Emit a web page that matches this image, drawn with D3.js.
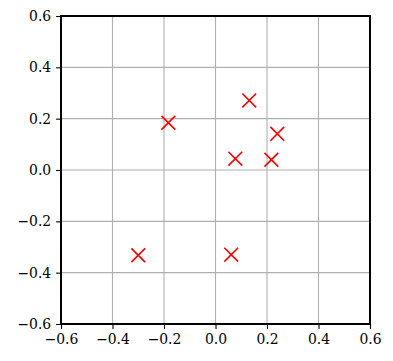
<!DOCTYPE html>
<html>
<head>
<meta charset="utf-8">
<script src="https://cdn.jsdelivr.net/npm/d3@7"></script>
<style>
  body { margin: 0; background: #fff; }
</style>
</head>
<body>
<div id="chart"></div>
<script>
// points
const xs = [-0.183, 0.131, 0.240, 0.077, 0.217, -0.300, 0.061];
const ys = [0.184, 0.271, 0.141, 0.044, 0.040, -0.332, -0.330];
const ticks = [-0.6, -0.4, -0.2, 0.0, 0.2, 0.4, 0.6];

const width = 393, height = 361;
const margin = {top: 16, right: 23, bottom: 37, left: 61};

const svg = d3.select("#chart")
    .append("svg")
    .attr("width", width)
    .attr("height", height);

const x = d3.scaleLinear()
    .domain([-0.6, 0.6])
    .range([margin.left, width - margin.right]);

const y = d3.scaleLinear()
    .domain([-0.6, 0.6])
    .range([height - margin.bottom, margin.top]);

const fmt = d => d3.format(".1f")(d).replace("-", "\u2212");

// grid
svg.append("g")
    .selectAll("line")
    .data(ticks)
    .enter()
    .append("line")
    .attr("x1", d => x(d)).attr("x2", d => x(d))
    .attr("y1", y(-0.6)).attr("y2", y(0.6))
    .attr("stroke", "#b0b0b0").attr("stroke-width", 1.1);

svg.append("g")
    .selectAll("line")
    .data(ticks)
    .enter()
    .append("line")
    .attr("y1", d => y(d)).attr("y2", d => y(d))
    .attr("x1", x(-0.6)).attr("x2", x(0.6))
    .attr("stroke", "#b0b0b0").attr("stroke-width", 1.1);

// axes
const xAxis = svg.append("g")
    .attr("transform", "translate(0," + y(-0.6) + ")")
    .call(d3.axisBottom(x).tickValues(ticks).tickFormat(fmt).tickSizeOuter(0).tickSize(4.9).tickPadding(4.9));

const yAxis = svg.append("g")
    .attr("transform", "translate(" + x(-0.6) + ",0)")
    .call(d3.axisLeft(y).tickValues(ticks).tickFormat(fmt).tickSizeOuter(0).tickSize(4.9).tickPadding(4.9));

[xAxis, yAxis].forEach(a => {
    a.select(".domain").remove();
    a.selectAll(".tick line").attr("stroke", "#000").attr("stroke-width", 1.1);
    a.selectAll(".tick text")
        .style("font-family", '"DejaVu Serif"')
        .style("font-size", "13.9px")
        .style("fill", "#000");
});

// frame
svg.append("rect")
    .attr("x", x(-0.6)).attr("y", y(0.6))
    .attr("width", x(0.6) - x(-0.6))
    .attr("height", y(-0.6) - y(0.6))
    .attr("fill", "none")
    .attr("stroke", "#000")
    .attr("stroke-width", 2);

// x markers
const s = 6.9;
const pts = xs.map((v, i) => [v, ys[i]]);
svg.append("g")
    .selectAll("path")
    .data(pts)
    .enter()
    .append("path")
    .attr("d", d => {
        const cx = x(d[0]), cy = y(d[1]);
        return `M${cx - s},${cy - s}L${cx + s},${cy + s}M${cx - s},${cy + s}L${cx + s},${cy - s}`;
    })
    .attr("stroke", "red")
    .attr("stroke-width", 1.6)
    .attr("fill", "none");
</script>
</body>
</html>
